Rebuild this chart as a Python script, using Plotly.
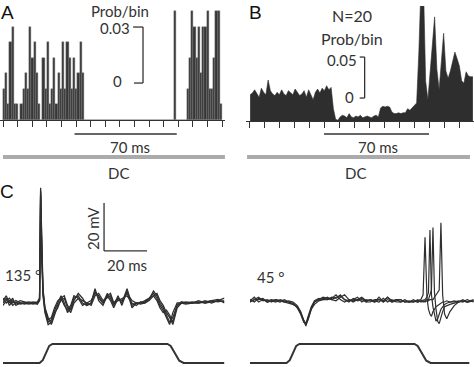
import plotly.graph_objects as go

W, H = 474, 367

# ---------------- data ----------------
# Panel A: single-cell PSTH, 1.5 ms bins over 0-150 ms (spikes per bin)
A_BIN_MS = 1.5
A_LEFT = [2, 3, 1, 5, 6, 1, 1, 0, 1, 2,
          3, 2, 6, 4, 5, 3, 1, 0, 4, 2,
          5, 1, 2, 4, 1, 3, 2, 5, 2, 5,
          4, 2, 4, 2, 3, 5, 3]
A_MID = [0] * 40 + [0, 7] + [0] * 5
A_RIGHT = [2, 4, 7, 6, 4, 6, 3, 6, 6, 7, 2, 2, 4, 7, 7, 1]
A_COUNTS = A_LEFT + A_MID + A_RIGHT
A_SWEEPS = 120

# Panel B: population PSTH (N=20), prob/bin, 1.5 ms bins
B_BIN_MS = 1.5
B_PROB = [0.032, 0.034, 0.038, 0.033, 0.029, 0.040, 0.035, 0.032, 0.050, 0.037,
          0.033, 0.031, 0.035, 0.032, 0.038, 0.033, 0.031, 0.037, 0.034, 0.032,
          0.039, 0.035, 0.031, 0.033, 0.037, 0.029, 0.038, 0.032, 0.026, 0.035,
          0.039, 0.034, 0.040, 0.037, 0.043, 0.038, 0.041,
          0.015,
          0.002, 0.001, 0.005, 0.007, 0.006, 0.004, 0.009, 0.005, 0.004, 0.006,
          0.005, 0.007, 0.004, 0.005, 0.006, 0.005, 0.004, 0.006, 0.007, 0.005,
          0.016, 0.018, 0.017, 0.018, 0.017, 0.011, 0.009, 0.009, 0.010,
          0.009, 0.010, 0.010, 0.015, 0.013, 0.016, 0.020, 0.022,
          0.085, 0.171, 0.171, 0.049, 0.026, 0.061, 0.098, 0.127, 0.063, 0.038,
          0.073, 0.107, 0.061, 0.052, 0.061, 0.073, 0.084, 0.076, 0.067, 0.049,
          0.046, 0.060, 0.055, 0.054, 0.054]

# Panel C left (135 deg): membrane potential traces (mV) vs time (ms)
L_T = [0, 1.5, 3, 4.5, 6, 8, 10, 12, 14, 16,
       17, 17.5, 18, 18.6, 19.5, 21, 22.5, 24, 25.5, 27,
       28.5, 30, 31.5, 33, 35, 37, 39, 41, 42.8, 44.5,
       46.5, 48.5, 50, 51.5, 53.5, 55.3, 57.7, 60, 62, 64,
       66, 68, 70, 71.6, 73, 74.5, 76, 77.5, 79, 81,
       83, 85, 88, 91, 94, 97, 100, 103]
L_V1 = [1, 3, 0, 2, -1, 0, 0, -0.5, 0, 0.5,
        2, 48, 20, 4, -3, -8, -7, -3, 0, 3,
        0, -4, -2, 2, 3, 0, -1, 0, 5, 2,
        0, 4, 2, -1, 3, -1, 5, -2, 0, 0,
        0.5, 2, 4, 2, -1, -3, -6, -9, -4, 0,
        0, 0, 0.5, 0, 0.5, 1, 1.5, 0]
L_V2 = [-1, 1, 2, 0, 1, 0, -0.5, 0, 0.5, 0,
        1.5, 47, 25, 6, -2, -6, -9, -5, -1, 1,
        2, -2, -4, 0, 2, 1, 0, -1, 3, 4,
        1, 2, 3, 0, 1, 2, 3, 0, -1, 0.5,
        0, 1, 3, 4, 1, -1, -4, -6, -9, -2,
        0, 0.5, 0, 1, 0, 1, 0.5, 1]
L_V3 = [2, 0, 1, -1, 0, 1, 0.5, 0, -0.5, 0,
        1, 45, 18, 3, -4, -9, -8, -4, -2, 2,
        3, -1, -3, 1, 4, 2, -1, 0, 6, 1,
        -1, 3, 4, 0, 2, 0, 6, -1, 0, -0.5,
        0, 1.5, 5, 3, 0, -2, -5, -8, -6, -1,
        0, -0.5, 0, 0, 1, 0, 1, 2]
L_V4 = [0, 2, -1, 1, 0, -0.5, 0, 0.5, 0, -0.5,
        1, 46, 22, 5, -2, -7, -6, -2, 1, 2,
        -1, -3, -1, 3, 2, -1, 0, 1, 4, 3,
        0, 3, 1, -2, 2, 1, 4, 1, 0, 0,
        1, 2, 3, 1, -2, -4, -3, -5, -8, -1,
        0.5, 0, 0, 0.5, 0, 0.5, 1, 0.5]

# Panel C right (45 deg)
R_T = [0, 2, 4, 6, 8, 10, 12, 14, 16, 18,
       20, 22, 23.5, 25, 26, 27, 28.5, 30, 32, 34,
       36, 38, 40, 42, 44, 46, 48, 50, 52, 54,
       56, 58, 60, 62, 64, 66, 68, 70, 72, 74,
       76, 78, 79.5, 80.5, 81.4, 82.3, 83, 83.7, 84.4, 85.1,
       85.8, 86.5, 87.3, 88, 88.8, 89.6, 90.5, 91.5, 93, 95,
       97, 99, 101, 104]
R_V1 = [0, 1, 2, 0.5, 1, 0, 1, 0.5, 0, -0.5,
        -1, -2, -4, -8, -9.5, -7, -3, 0, 1, 1.5,
        1, 2, 1.5, 3, 1, 0.5, 1, 2, 0, 1,
        0.5, 0, 2, 0, 1, 0, 0.5, 1, 0, 0.5,
        0, 0.5, 1, 3, 27, 2, -3, -5, -6, -4,
        -3, -2, -1.5, -1, -0.5, 0, 0, 0.5, 0, 0.5,
        0, 1, 0, 0.5]
R_V2 = [1, 0, 1.5, 1, 0, 0.5, 0, 1, 0.5, 0,
        -0.5, -2.5, -5, -8.5, -9, -6, -2, 0.5, 1.5, 1,
        2, 1, 0.5, 2, 3, 1, 0, 1, 2, 0.5,
        1, 0.5, 0, 1.5, 0, 1, 0, 0, 1, 0,
        0.5, 0, 0.5, 0.5, 1, 2, 4, 30, 3, -2,
        -5, -8, -7, -5, -3, -2, -1, -0.5, 0, 0,
        0.5, 0, 1, 0]
R_V3 = [0.5, 2, 0, 1, 0.5, 1, 0.5, 0, 1, 0,
        -1, -2, -4.5, -8, -10, -7, -2.5, 0, 1, 2,
        1.5, 1, 2, 2.5, 1, 0, 1.5, 0.5, 1, 0,
        0, 1, 1, 0.5, 2, 0.5, 1, 0, 0.5, 0,
        1, 0, 0.5, 0, 0.5, 1, 1, 3, 5, 31,
        4, -3, -8, -9, -6, -4, -2, -1.5, -1, -0.5,
        0, 0.5, 0, 1]
R_V4 = [0, 1, 1, 1.5, 0, 0.5, 1, 0.5, 0, 0.5,
        0, -1.5, -4, -7.5, -9, -7.5, -3, -1, 0.5, 1,
        1, 1.5, 3, 1, 0, 1, 0.5, 1, 1.5, 0,
        1, 0, 1, 0, 2, 0, 1, 1, 0, 0,
        0, 1, 0, 0.5, 0, 0.5, 0.5, 1, 1, 1,
        2, 3, 4, 5, 33, 3, -5, -7, -4, -1.5,
        0, 0.5, 0, 0.5]

# stimulus (normalised)
S_T = [0, 17, 18.5, 20, 21.5, 23, 76.5, 78, 80, 82, 84, 103]
S_V = [0, 0, 0.15, 0.55, 0.9, 1, 1, 0.9, 0.5, 0.12, 0, 0]

# ---------------- helpers (layout geometry) ----------------
def fx(px):
    return px / W

def fy(py):
    return 1 - py / H

DARK = '#333333'
GREY = '#ababab'
FONT = 'Lato'

A_PXMS = 1.46          # px per ms
A_K = 0.03 / 56        # prob per px
B_PXMS = 1.5
B_K = 0.05 / 41
C_PXMS = 2.15
C_PXMV = 2.4

fig = go.Figure()

# Panel A bars
a_x = [A_BIN_MS * i + A_BIN_MS / 2 for i in range(len(A_COUNTS))]
a_y = [c / A_SWEEPS for c in A_COUNTS]
fig.add_trace(go.Bar(x=a_x, y=a_y, width=A_BIN_MS, xaxis='x', yaxis='y',
                     marker=dict(color='#363636', line=dict(color='#7a7a7a', width=0.45)),
                     hoverinfo='skip'))

# Panel B filled PSTH
b_x = [B_BIN_MS * i + B_BIN_MS / 2 for i in range(len(B_PROB))]
fig.add_trace(go.Scatter(x=b_x, y=B_PROB, xaxis='x2', yaxis='y2', mode='lines',
                         line=dict(color='#2e2e2e', width=0.6), fill='tozeroy',
                         fillcolor='#2e2e2e', hoverinfo='skip'))

# Panel C traces
for v in (L_V1, L_V2, L_V3, L_V4):
    fig.add_trace(go.Scatter(x=L_T, y=v, xaxis='x3', yaxis='y3', mode='lines',
                             line=dict(color='#2f2f2f', width=1.3), hoverinfo='skip'))
for v in (R_V1, R_V2, R_V3, R_V4):
    fig.add_trace(go.Scatter(x=R_T, y=v, xaxis='x4', yaxis='y4', mode='lines',
                             line=dict(color='#2f2f2f', width=1.2), hoverinfo='skip'))
fig.add_trace(go.Scatter(x=S_T, y=S_V, xaxis='x3', yaxis='y5', mode='lines',
                         line=dict(color=DARK, width=2), hoverinfo='skip'))
fig.add_trace(go.Scatter(x=S_T[:-1] + [102], y=S_V, xaxis='x4', yaxis='y6', mode='lines',
                         line=dict(color=DARK, width=2), hoverinfo='skip'))

shapes = []
ann = []

def line(xref, yref, x0, y0, x1, y1, color=DARK, width=1.3):
    shapes.append(dict(type='line', xref=xref, yref=yref, x0=x0, y0=y0, x1=x1, y1=y1,
                       line=dict(color=color, width=width)))

def text(xref, yref, x, y, s, size=15, xanchor='center', angle=0):
    ann.append(dict(xref=xref, yref=yref, x=x, y=y, text=s, showarrow=False,
                    xanchor=xanchor, yanchor='middle', textangle=angle,
                    font=dict(family=FONT, size=size, color=DARK)))

# ---- A annotations
line('x', 'y', 95.9, 0.0198, 95.9, 0.0498)
line('x', 'y', 89.1, 0.0498, 95.9, 0.0498)
line('x', 'y', 89.7, 0.0198, 95.9, 0.0198)
text('x', 'y', 80.1, 0.0586, 'Prob/bin')
text('x', 'y', 88.6, 0.0493, '0.03', xanchor='right')
text('x', 'y', 82.6, 0.0209, '0', xanchor='right')
line('x', 'y', 49, -0.0075, 119, -0.0075, width=1.6)
text('x', 'y', 87, -0.0145, '70 ms')
line('x', 'y', 0, -0.0198, 152, -0.0198, color=GREY, width=4)
text('x', 'y', 78.8, -0.0284, 'DC')

# ---- B annotations
line('x2', 'y2', 77.1, 0.028, 77.1, 0.078)
line('x2', 'y2', 73.8, 0.078, 77.1, 0.078)
line('x2', 'y2', 73.8, 0.028, 77.1, 0.028)
text('x2', 'y2', 68.7, 0.129, 'N=20', size=16)
text('x2', 'y2', 68.7, 0.101, 'Prob/bin', size=16)
text('x2', 'y2', 73.0, 0.0744, '0.05', xanchor='right')
text('x2', 'y2', 71.0, 0.0293, '0', xanchor='right')
line('x2', 'y2', 50, -0.0159, 120, -0.0159, width=1.6)
text('x2', 'y2', 86, -0.0317, '70 ms')
line('x2', 'y2', -1.3, -0.0439, 147.3, -0.0439, color=GREY, width=4)
text('x2', 'y2', 70.7, -0.0634, 'DC')

# ---- C annotations
line('x3', 'y3', 47, 21.7, 47, 41.7)
line('x3', 'y3', 47, 21.7, 67, 21.7)
text('x3', 'y3', 41.9, 31.3, '20 mV', size=15, angle=-90)
text('x3', 'y3', 57.9, 15.8, '20 ms', size=15)
text('x3', 'y3', 9.3, 11.7, '135 °', size=15)
text('x4', 'y4', 9.3, 10.4, '45 °', size=15)

# panel letters
for s, px, py in (('A', 7, 12), ('B', 255, 12), ('C', 7, 191)):
    ann.append(dict(xref='paper', yref='paper', x=fx(px), y=fy(py), text=s,
                    showarrow=False, xanchor='center', yanchor='middle',
                    font=dict(family='Liberation Sans', size=19, color='#111')))

hist_x = dict(showline=True, linecolor=DARK, linewidth=1, ticks='outside', ticklen=6,
              tickcolor=DARK, tickwidth=1, tick0=0, dtick=10, showticklabels=False,
              showgrid=False, zeroline=False, anchor='free')
hidden = dict(visible=False, showgrid=False, zeroline=False)

fig.update_layout(
    width=W, height=H, margin=dict(l=0, r=0, t=0, b=0),
    paper_bgcolor='white', plot_bgcolor='rgba(0,0,0,0)', showlegend=False,
    bargap=0,
    xaxis=dict(hist_x, domain=[fx(3 - 2 * A_PXMS), fx(3 + 152 * A_PXMS)], range=[-2, 152],
               position=fy(120)),
    yaxis=dict(hidden, domain=[fy(185), fy(0)], range=[-(185 - 120) * A_K, 120 * A_K], anchor='x'),
    xaxis2=dict(hist_x, domain=[fx(249 - 2 * B_PXMS), 1], range=[-2, 150], position=fy(121)),
    yaxis2=dict(hidden, domain=[fy(185), fy(6)], range=[-(185 - 121) * B_K, 115 * B_K], anchor='x2'),
    xaxis3=dict(hidden, domain=[fx(3), fx(3 + 103 * C_PXMS)], range=[0, 103], anchor='y3'),
    yaxis3=dict(hidden, domain=[fy(335), fy(175)], range=[-(335 - 303) / C_PXMV, (303 - 175) / C_PXMV], anchor='x3'),
    xaxis4=dict(hidden, domain=[fx(250), 1], range=[0, 224 / C_PXMS], anchor='y4'),
    yaxis4=dict(hidden, domain=[fy(335), fy(175)], range=[-(335 - 302) / C_PXMV, (302 - 175) / C_PXMV], anchor='x4'),
    yaxis5=dict(hidden, domain=[0, fy(335)], range=[-(367 - 363) / 19, (363 - 335) / 19], anchor='x3'),
    yaxis6=dict(hidden, domain=[0, fy(335)], range=[-(367 - 363) / 19, (363 - 335) / 19], anchor='x4'),
    shapes=shapes, annotations=ann,
)

fig.write_html("out.html", config={'displayModeBar': False},
               post_script="document.body.style.margin='0';")
